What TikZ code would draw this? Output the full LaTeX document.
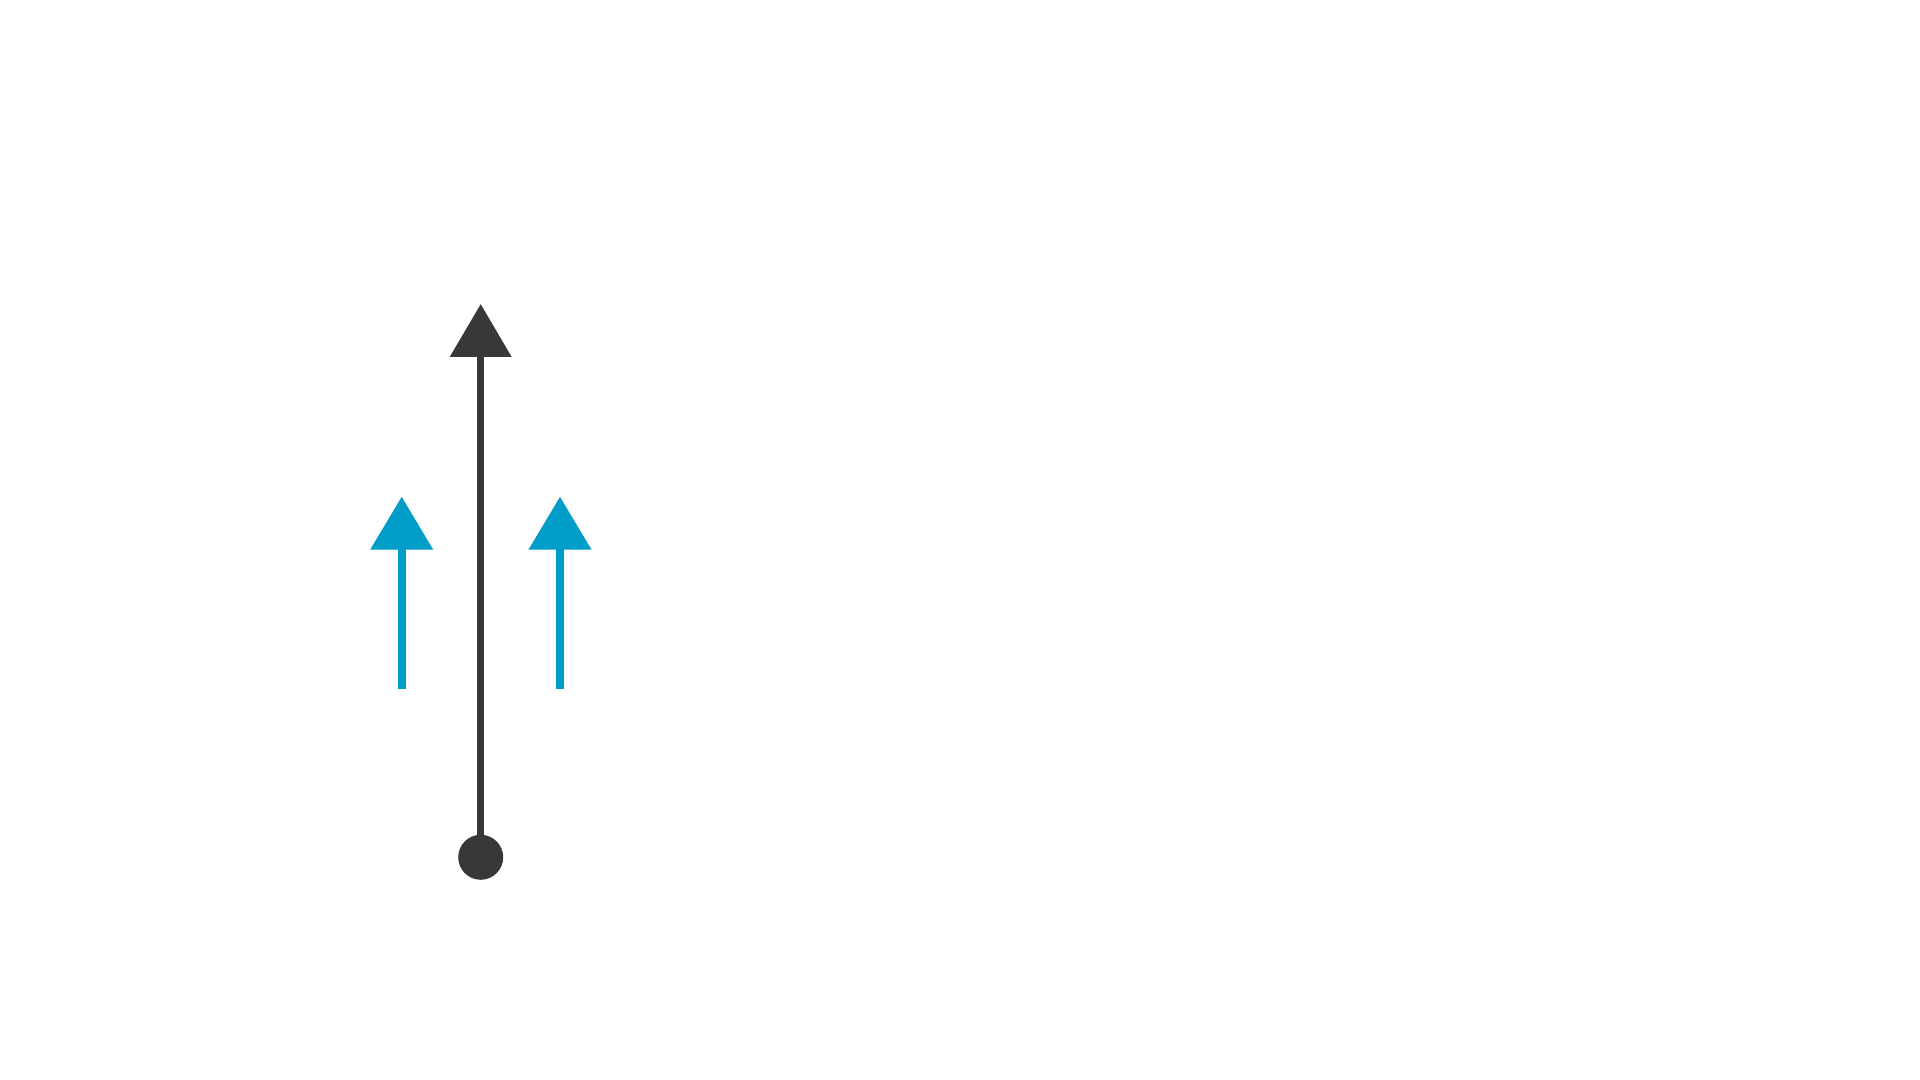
\documentclass[tikz,border=0pt]{standalone}
\usepackage{xcolor}
\usepackage{tikz}
\usetikzlibrary{arrows.meta,positioning}
\definecolor{darkgray}{RGB}{56,56,56}
\definecolor{flowblue}{RGB}{0,157,200}

\tikzset{
	mainline/.style={draw=darkgray, line width=0.075cm, -{Triangle[length=5.3mm, width=6mm]}},
	flowline/.style={draw=flowblue, line width=0.08cm, -{Triangle[length=5.3mm, width=6.1mm]}},
	origin/.style={circle, fill=darkgray, minimum size=4.5mm, inner sep=0pt}
}

\begin{document}
\begin{tikzpicture}
	\useasboundingbox (0,0) rectangle (19.2,10.8);
	\coordinate (top) at (4.807, 7.76);
	\coordinate (leftbase) at (4.017, 3.91);
	\coordinate (lefttip) at (4.017, 5.833);
	\coordinate (rightbase) at (5.6, 3.91);
	\coordinate (righttip) at (5.6, 5.833);
	\draw[mainline] (4.807, 2.227) coordinate (base) -- (top);
	\node[origin] (dot) at (base) {};
	\draw[flowline] (leftbase) -- (lefttip);
	\draw[flowline] (rightbase) -- (righttip);
\end{tikzpicture}
\end{document}
